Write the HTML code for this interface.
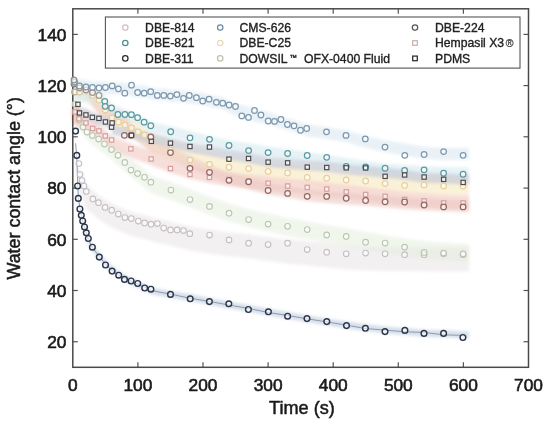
<!DOCTYPE html>
<html><head><meta charset="utf-8"><style>html,body{margin:0;padding:0;background:#fff;}svg{display:block;filter:blur(0.3px);}</style></head>
<body><svg width="550" height="425" viewBox="0 0 550 425">
<defs><filter id="bb" x="-5%" y="-20%" width="110%" height="140%"><feGaussianBlur stdDeviation="1.6"/></filter>
<filter id="mb" x="-5%" y="-5%" width="110%" height="110%"><feGaussianBlur stdDeviation="0.35"/></filter></defs>
<rect width="550" height="425" fill="#fff"/>
<g filter="url(#bb)"><path d="M78.9,165.8 L80.0,169.1 L82.0,172.2 L84.0,179.3 L86.3,184.9 L92.9,190.3 L98.5,195.1 L105.1,199.6 L111.7,203.4 L118.3,206.5 L124.9,209.2 L131.3,211.8 L138.3,213.8 L144.6,215.0 L151.0,216.9 L157.4,218.7 L163.7,220.1 L170.5,221.4 L177.1,223.4 L183.5,224.8 L189.8,226.8 L209.5,229.5 L229.0,232.3 L248.6,234.2 L268.1,237.1 L287.6,239.5 L307.2,241.6 L326.7,243.3 L346.2,245.5 L365.6,246.5 L385.1,247.0 L404.6,247.0 L424.1,247.3 L443.6,247.5 L463.1,247.4 L469.1,247.4 L469.1,271.4 L463.1,271.4 L443.6,271.5 L424.1,271.3 L404.6,271.0 L385.1,271.0 L365.6,270.5 L346.2,269.5 L326.7,267.3 L307.2,265.6 L287.6,263.5 L268.1,261.1 L248.6,258.2 L229.0,256.3 L209.5,253.5 L189.8,250.8 L183.5,248.8 L177.1,247.4 L170.5,245.4 L163.7,244.1 L157.4,242.7 L151.0,240.9 L144.6,239.0 L138.3,237.8 L131.3,235.8 L124.9,233.2 L118.3,230.5 L111.7,227.4 L105.1,223.6 L98.5,219.1 L92.9,214.3 L86.3,208.9 L84.0,203.3 L82.0,196.2 L80.0,193.1 L78.9,189.8Z" fill="#eae4e8" fill-opacity="0.55"/><path d="M75.0,103.0 L77.0,106.8 L79.5,110.0 L83.0,116.3 L87.0,121.7 L92.4,126.5 L98.6,131.0 L104.5,135.7 L111.5,141.0 L118.0,147.2 L124.8,153.2 L131.0,158.7 L137.6,164.1 L144.5,169.6 L150.9,175.5 L170.9,182.1 L190.0,189.3 L209.5,196.7 L229.0,203.5 L248.6,208.9 L268.1,213.5 L287.6,217.9 L307.2,221.2 L326.7,224.9 L346.2,228.2 L365.6,231.7 L385.1,235.2 L404.6,238.5 L424.1,240.9 L443.6,242.6 L463.1,244.1 L469.1,244.1 L469.1,262.1 L463.1,262.1 L443.6,260.6 L424.1,258.9 L404.6,256.5 L385.1,253.2 L365.6,249.7 L346.2,246.2 L326.7,242.9 L307.2,239.2 L287.6,235.9 L268.1,231.5 L248.6,226.9 L229.0,221.5 L209.5,214.7 L190.0,207.3 L170.9,200.1 L150.9,193.5 L144.5,187.6 L137.6,182.1 L131.0,176.7 L124.8,171.2 L118.0,165.2 L111.5,159.0 L104.5,153.7 L98.6,149.0 L92.4,144.5 L87.0,139.7 L83.0,134.3 L79.5,128.0 L77.0,124.8 L75.0,121.0Z" fill="#e4eedc" fill-opacity="0.5"/><path d="M74.5,81.7 L79.5,82.8 L86.0,84.5 L92.5,88.1 L99.0,93.3 L105.4,100.1 L112.0,106.0 L118.5,111.6 L125.0,116.0 L131.5,119.4 L138.0,122.6 L144.5,127.6 L151.0,134.0 L170.5,140.4 L190.0,146.9 L209.5,153.0 L229.0,157.3 L248.6,159.9 L268.1,162.5 L287.6,164.7 L307.2,167.0 L326.7,168.9 L346.2,171.0 L365.6,172.7 L385.1,174.0 L404.6,175.2 L424.1,176.2 L443.6,176.6 L463.1,176.7 L469.1,176.7 L469.1,194.7 L463.1,194.7 L443.6,194.6 L424.1,194.2 L404.6,193.2 L385.1,192.0 L365.6,190.7 L346.2,189.0 L326.7,186.9 L307.2,185.0 L287.6,182.7 L268.1,180.5 L248.6,177.9 L229.0,175.3 L209.5,171.0 L190.0,164.9 L170.5,158.4 L151.0,152.0 L144.5,145.6 L138.0,140.6 L131.5,137.4 L125.0,134.0 L118.5,129.6 L112.0,124.0 L105.4,118.1 L99.0,111.3 L92.5,106.1 L86.0,102.5 L79.5,100.8 L74.5,99.7Z" fill="#f8eac4" fill-opacity="0.65"/><path d="M75.0,110.9 L79.0,113.6 L86.0,115.7 L92.7,120.5 L99.0,124.7 L105.3,129.9 L111.6,136.0 L130.8,143.5 L151.2,151.2 L170.5,158.7 L190.0,164.8 L209.5,169.3 L229.0,172.3 L248.6,174.6 L268.1,176.6 L287.6,178.5 L307.2,180.5 L326.7,182.8 L346.2,184.9 L365.6,187.3 L385.1,189.6 L404.6,191.9 L424.1,193.6 L443.6,194.6 L463.1,195.3 L469.1,195.3 L469.1,209.3 L463.1,209.3 L443.6,208.6 L424.1,207.6 L404.6,205.9 L385.1,203.6 L365.6,201.3 L346.2,198.9 L326.7,196.8 L307.2,194.5 L287.6,192.5 L268.1,190.6 L248.6,188.6 L229.0,186.3 L209.5,183.3 L190.0,178.8 L170.5,172.7 L151.2,165.2 L130.8,157.5 L111.6,150.0 L105.3,143.9 L99.0,138.7 L92.7,134.5 L86.0,129.7 L79.0,127.6 L75.0,124.9Z" fill="#f4d0ca" fill-opacity="0.7"/><path d="M74.0,81.3 L79.5,82.6 L86.0,84.0 L92.5,94.3 L99.0,103.7 L124.4,113.1 L131.2,125.1 L150.8,139.7 L170.5,147.1 L190.0,156.1 L209.5,165.0 L229.0,172.6 L248.6,177.6 L268.1,182.4 L287.6,185.7 L307.2,189.0 L326.7,191.0 L346.2,192.6 L365.6,193.8 L385.1,195.5 L404.6,197.2 L424.1,198.5 L443.6,199.2 L463.1,200.3 L469.1,200.3 L469.1,212.3 L463.1,212.3 L443.6,211.2 L424.1,210.5 L404.6,209.2 L385.1,207.5 L365.6,205.8 L346.2,204.6 L326.7,203.0 L307.2,201.0 L287.6,197.7 L268.1,194.4 L248.6,189.6 L229.0,184.6 L209.5,177.0 L190.0,168.1 L170.5,159.1 L150.8,151.7 L131.2,137.1 L124.4,125.1 L99.0,115.7 L92.5,106.3 L86.0,96.0 L79.5,94.6 L74.0,93.3Z" fill="#ecc8c0" fill-opacity="0.6"/><path d="M74.5,79.0 L79.5,79.6 L86.0,80.1 L92.5,81.2 L99.0,81.2 L105.4,81.5 L112.2,82.7 L118.4,82.1 L124.8,83.1 L131.5,84.6 L137.6,85.2 L144.2,85.6 L150.7,87.6 L157.3,88.4 L163.8,88.6 L170.4,90.0 L176.9,90.0 L183.5,90.4 L189.3,91.4 L196.4,92.3 L202.7,93.1 L209.1,94.7 L216.4,96.1 L222.7,97.2 L229.1,100.6 L235.5,103.6 L241.8,105.1 L248.5,107.1 L254.5,110.0 L260.9,111.1 L268.2,111.5 L274.5,114.3 L280.9,116.4 L287.4,118.3 L294.0,119.7 L300.5,122.2 L306.7,124.3 L326.5,127.0 L346.0,130.3 L365.3,135.7 L385.0,140.2 L404.8,143.5 L424.1,146.8 L443.6,148.2 L463.1,147.8 L469.1,147.8 L469.1,159.8 L463.1,159.8 L443.6,160.2 L424.1,158.8 L404.8,155.5 L385.0,152.2 L365.3,147.7 L346.0,142.3 L326.5,139.0 L306.7,136.3 L300.5,134.2 L294.0,131.7 L287.4,130.3 L280.9,128.4 L274.5,126.3 L268.2,123.5 L260.9,123.1 L254.5,122.0 L248.5,119.1 L241.8,117.1 L235.5,115.6 L229.1,112.6 L222.7,109.2 L216.4,108.1 L209.1,106.7 L202.7,105.1 L196.4,104.3 L189.3,103.4 L183.5,102.4 L176.9,102.0 L170.4,102.0 L163.8,100.6 L157.3,100.4 L150.7,99.6 L144.2,97.6 L137.6,97.2 L131.5,96.6 L124.8,95.1 L118.4,94.1 L112.2,94.7 L105.4,93.5 L99.0,93.2 L92.5,93.2 L86.0,92.1 L79.5,91.6 L74.5,91.0Z" fill="#dbe8f2" fill-opacity="0.6"/><path d="M74.0,90.9 L104.8,93.9 L105.2,97.0 L111.5,103.9 L117.9,106.6 L124.9,108.9 L131.4,111.7 L137.6,114.0 L144.1,117.4 L150.8,122.0 L170.7,126.3 L190.0,131.0 L209.5,136.0 L229.0,140.2 L248.6,143.3 L268.1,146.5 L287.6,148.9 L307.2,152.1 L326.7,155.0 L346.2,157.9 L365.6,160.9 L385.1,163.4 L404.6,164.7 L424.1,166.2 L443.6,166.9 L463.1,167.4 L469.1,167.4 L469.1,177.4 L463.1,177.4 L443.6,176.9 L424.1,176.2 L404.6,174.7 L385.1,173.4 L365.6,170.9 L346.2,167.9 L326.7,165.0 L307.2,162.1 L287.6,158.9 L268.1,156.5 L248.6,153.3 L229.0,150.2 L209.5,146.0 L190.0,141.0 L170.7,136.3 L150.8,132.0 L144.1,127.4 L137.6,124.0 L131.4,121.7 L124.9,118.9 L117.9,116.6 L111.5,113.9 L105.2,107.0 L104.8,103.9 L74.0,100.9Z" fill="#d6eaee" fill-opacity="0.6"/><path d="M78.0,105.8 L79.5,107.4 L86.0,108.6 L92.4,112.1 L99.0,115.0 L105.5,116.6 L111.6,120.2 L112.2,124.8 L131.5,129.0 L151.3,132.9 L170.5,137.7 L190.0,142.5 L209.5,145.9 L229.0,149.7 L248.6,153.0 L268.1,157.0 L287.6,158.7 L307.2,160.5 L326.7,161.7 L346.2,164.4 L365.6,165.9 L385.1,167.8 L404.6,170.1 L424.1,173.0 L443.6,173.4 L463.1,174.6 L469.1,174.6 L469.1,184.6 L463.1,184.6 L443.6,183.4 L424.1,183.0 L404.6,180.1 L385.1,177.8 L365.6,175.9 L346.2,174.4 L326.7,171.7 L307.2,170.5 L287.6,168.7 L268.1,167.0 L248.6,163.0 L229.0,159.7 L209.5,155.9 L190.0,152.5 L170.5,147.7 L151.3,142.9 L131.5,139.0 L112.2,134.8 L111.6,130.2 L105.5,126.6 L99.0,125.0 L92.4,122.1 L86.0,118.6 L79.5,117.4 L78.0,115.8Z" fill="#c6cad6" fill-opacity="0.7"/><path d="M75.6,154.0 L76.8,164.2 L77.6,172.5 L78.3,189.3 L79.9,202.4 L81.3,210.6 L82.7,217.5 L84.5,223.4 L86.3,229.8 L88.3,237.0 L92.4,244.6 L99.3,252.3 L105.5,259.6 L112.1,266.1 L118.7,270.8 L124.5,274.5 L131.1,277.9 L137.7,280.7 L144.7,283.7 L150.9,287.3 L170.5,290.9 L190.2,294.1 L209.4,298.1 L228.8,301.6 L248.4,305.1 L268.4,308.5 L287.6,312.0 L307.0,315.3 L326.8,318.6 L346.5,321.6 L365.4,324.0 L385.0,326.4 L404.9,327.9 L424.0,329.8 L443.6,330.2 L462.9,331.3 L468.9,331.3 L468.9,338.3 L462.9,338.3 L443.6,337.2 L424.0,336.8 L404.9,334.9 L385.0,333.4 L365.4,331.0 L346.5,328.6 L326.8,325.6 L307.0,322.3 L287.6,319.0 L268.4,315.5 L248.4,312.1 L228.8,308.6 L209.4,305.1 L190.2,301.1 L170.5,297.9 L150.9,294.3 L144.7,290.7 L137.7,287.7 L131.1,284.9 L124.5,281.5 L118.7,277.8 L112.1,273.1 L105.5,266.6 L99.3,259.3 L92.4,251.6 L88.3,244.0 L86.3,236.8 L84.5,230.4 L82.7,224.5 L81.3,217.6 L79.9,209.4 L78.3,196.3 L77.6,179.5 L76.8,171.2 L75.6,161.0Z" fill="#b0c0d8" fill-opacity="0.5"/><ellipse cx="76" cy="114" rx="5" ry="11" fill="#f3b898" fill-opacity="0.55"/></g>
<g stroke="#555" stroke-width="1.2"><line x1="137.9" y1="367.3" x2="137.9" y2="362.3"/><line x1="137.9" y1="8.8" x2="137.9" y2="13.8"/><line x1="203.0" y1="367.3" x2="203.0" y2="362.3"/><line x1="203.0" y1="8.8" x2="203.0" y2="13.8"/><line x1="268.1" y1="367.3" x2="268.1" y2="362.3"/><line x1="268.1" y1="8.8" x2="268.1" y2="13.8"/><line x1="333.2" y1="367.3" x2="333.2" y2="362.3"/><line x1="333.2" y1="8.8" x2="333.2" y2="13.8"/><line x1="398.3" y1="367.3" x2="398.3" y2="362.3"/><line x1="398.3" y1="8.8" x2="398.3" y2="13.8"/><line x1="463.4" y1="367.3" x2="463.4" y2="362.3"/><line x1="463.4" y1="8.8" x2="463.4" y2="13.8"/><line x1="72.8" y1="341.7" x2="77.8" y2="341.7"/><line x1="528.5" y1="341.7" x2="523.5" y2="341.7"/><line x1="72.8" y1="290.5" x2="77.8" y2="290.5"/><line x1="528.5" y1="290.5" x2="523.5" y2="290.5"/><line x1="72.8" y1="239.3" x2="77.8" y2="239.3"/><line x1="528.5" y1="239.3" x2="523.5" y2="239.3"/><line x1="72.8" y1="188.1" x2="77.8" y2="188.1"/><line x1="528.5" y1="188.1" x2="523.5" y2="188.1"/><line x1="72.8" y1="136.8" x2="77.8" y2="136.8"/><line x1="528.5" y1="136.8" x2="523.5" y2="136.8"/><line x1="72.8" y1="85.6" x2="77.8" y2="85.6"/><line x1="528.5" y1="85.6" x2="523.5" y2="85.6"/><line x1="72.8" y1="34.4" x2="77.8" y2="34.4"/><line x1="528.5" y1="34.4" x2="523.5" y2="34.4"/></g>
<rect x="72.8" y="8.8" width="455.7" height="358.5" fill="none" stroke="#4a4a4a" stroke-width="1.5"/>
<g filter="url(#mb)"><polyline fill="none" stroke="#8e9aae" stroke-width="1" points="75.6,143.2 76.8,157.5 77.6,179.9 78.3,197.8 79.9,207.6 81.3,215.1 82.7,221.1 84.5,226.9 86.3,232.8 88.3,239.5 92.4,247.6 99.3,256.4 105.5,264.4 112.1,270.4 118.7,275.2 124.5,278.5 131.1,281.3 137.7,284.2 144.7,286.9 150.9,290.5 170.5,294.1 190.2,298.3 209.4,301.4 228.8,305.0 248.4,308.4 268.4,312.5 287.6,315.5 307.0,318.8 326.8,321.9 346.5,325.2 365.4,328.5 385.0,330.1 404.9,331.8 424.0,332.4 443.6,334.8 462.9,335.4"/><g fill="#fff" fill-opacity="0.6" stroke="#c6c0c2" stroke-width="1.15"><circle cx="78.9" cy="163.5" r="2.8"/><circle cx="80.0" cy="174.5" r="2.8"/><circle cx="82.0" cy="180.5" r="2.8"/><circle cx="84.0" cy="186.0" r="2.8"/><circle cx="86.3" cy="191.4" r="2.8"/><circle cx="92.9" cy="198.9" r="2.8"/><circle cx="98.5" cy="202.7" r="2.8"/><circle cx="105.1" cy="207.4" r="2.8"/><circle cx="111.7" cy="210.2" r="2.8"/><circle cx="118.3" cy="214.0" r="2.8"/><circle cx="124.9" cy="217.5" r="2.8"/><circle cx="131.3" cy="218.5" r="2.8"/><circle cx="138.3" cy="221.0" r="2.8"/><circle cx="144.6" cy="222.9" r="2.8"/><circle cx="151.0" cy="224.2" r="2.8"/><circle cx="157.4" cy="223.5" r="2.8"/><circle cx="163.7" cy="228.0" r="2.8"/><circle cx="170.5" cy="229.9" r="2.8"/><circle cx="177.1" cy="229.9" r="2.8"/><circle cx="183.5" cy="230.5" r="2.8"/><circle cx="189.8" cy="233.7" r="2.8"/><circle cx="209.5" cy="235.0" r="2.8"/><circle cx="229.0" cy="239.9" r="2.8"/><circle cx="248.6" cy="243.2" r="2.8"/><circle cx="268.1" cy="244.5" r="2.8"/><circle cx="287.6" cy="243.2" r="2.8"/><circle cx="307.2" cy="249.5" r="2.8"/><circle cx="326.7" cy="252.2" r="2.8"/><circle cx="346.2" cy="253.8" r="2.8"/><circle cx="365.6" cy="253.0" r="2.8"/><circle cx="385.1" cy="253.8" r="2.8"/><circle cx="404.6" cy="254.7" r="2.8"/><circle cx="424.1" cy="254.7" r="2.8"/><circle cx="443.6" cy="253.8" r="2.8"/><circle cx="463.1" cy="254.7" r="2.8"/></g><g fill="#fff" fill-opacity="0.6" stroke="#bac8b2" stroke-width="1.15"><circle cx="75.0" cy="104.0" r="2.8"/><circle cx="77.0" cy="112.0" r="2.8"/><circle cx="79.5" cy="120.0" r="2.8"/><circle cx="83.0" cy="127.0" r="2.8"/><circle cx="87.0" cy="132.0" r="2.8"/><circle cx="92.4" cy="135.5" r="2.8"/><circle cx="98.6" cy="139.0" r="2.8"/><circle cx="104.5" cy="144.0" r="2.8"/><circle cx="111.5" cy="149.5" r="2.8"/><circle cx="118.0" cy="155.3" r="2.8"/><circle cx="124.8" cy="162.4" r="2.8"/><circle cx="131.0" cy="170.0" r="2.8"/><circle cx="137.6" cy="173.6" r="2.8"/><circle cx="144.5" cy="177.3" r="2.8"/><circle cx="150.9" cy="182.2" r="2.8"/><circle cx="170.9" cy="190.0" r="2.8"/><circle cx="190.0" cy="199.5" r="2.8"/><circle cx="209.5" cy="206.4" r="2.8"/><circle cx="229.0" cy="213.2" r="2.8"/><circle cx="248.6" cy="219.5" r="2.8"/><circle cx="268.1" cy="224.1" r="2.8"/><circle cx="287.6" cy="226.3" r="2.8"/><circle cx="307.2" cy="229.5" r="2.8"/><circle cx="326.7" cy="234.9" r="2.8"/><circle cx="346.2" cy="236.4" r="2.8"/><circle cx="365.6" cy="242.2" r="2.8"/><circle cx="385.1" cy="243.0" r="2.8"/><circle cx="404.6" cy="247.1" r="2.8"/><circle cx="424.1" cy="252.4" r="2.8"/><circle cx="443.6" cy="253.0" r="2.8"/><circle cx="463.1" cy="253.8" r="2.8"/></g><g fill="#fff" fill-opacity="0.6" stroke="#e8d09e" stroke-width="1.25"><circle cx="74.5" cy="92.0" r="2.8" stroke="#b8b090"/><circle cx="79.5" cy="92.0" r="2.8" stroke="#d8c8a0"/><circle cx="86.0" cy="88.0" r="2.8"/><circle cx="92.5" cy="95.4" r="2.8"/><circle cx="99.0" cy="100.0" r="2.8"/><circle cx="105.4" cy="110.0" r="2.8"/><circle cx="112.0" cy="118.0" r="2.8"/><circle cx="118.5" cy="122.0" r="2.8"/><circle cx="125.0" cy="125.0" r="2.8"/><circle cx="131.5" cy="128.0" r="2.8"/><circle cx="138.0" cy="132.0" r="2.8"/><circle cx="144.5" cy="135.0" r="2.8"/><circle cx="151.0" cy="138.0" r="2.8"/><circle cx="170.5" cy="150.0" r="2.8"/><circle cx="190.0" cy="159.9" r="2.8"/><circle cx="209.5" cy="164.3" r="2.8"/><circle cx="229.0" cy="167.2" r="2.8"/><circle cx="248.6" cy="168.6" r="2.8"/><circle cx="268.1" cy="171.5" r="2.8"/><circle cx="287.6" cy="173.0" r="2.8"/><circle cx="307.2" cy="177.4" r="2.8"/><circle cx="326.7" cy="178.2" r="2.8"/><circle cx="346.2" cy="180.0" r="2.8"/><circle cx="365.6" cy="181.0" r="2.8"/><circle cx="385.1" cy="183.6" r="2.8"/><circle cx="404.6" cy="185.5" r="2.8"/><circle cx="424.1" cy="185.0" r="2.8"/><circle cx="443.6" cy="186.0" r="2.8"/><circle cx="463.1" cy="186.0" r="2.8"/></g><g fill="#fff" fill-opacity="0.6" stroke="#d6a2a0" stroke-width="1.25"><rect x="72.8" y="109.8" width="4.3" height="4.3"/><rect x="76.8" y="116.6" width="4.3" height="4.3"/><rect x="83.8" y="120.8" width="4.3" height="4.3"/><rect x="90.5" y="126.3" width="4.3" height="4.3"/><rect x="96.8" y="128.8" width="4.3" height="4.3"/><rect x="103.1" y="133.8" width="4.3" height="4.3"/><rect x="109.4" y="137.8" width="4.3" height="4.3"/><rect x="128.7" y="146.7" width="4.3" height="4.3"/><rect x="149.0" y="156.8" width="4.3" height="4.3"/><rect x="168.3" y="166.4" width="4.3" height="4.3"/><rect x="187.8" y="172.3" width="4.3" height="4.3"/><rect x="207.3" y="175.2" width="4.3" height="4.3"/><rect x="226.8" y="177.3" width="4.3" height="4.3"/><rect x="246.4" y="179.5" width="4.3" height="4.3"/><rect x="266.0" y="181.0" width="4.3" height="4.3"/><rect x="285.5" y="183.9" width="4.3" height="4.3"/><rect x="305.1" y="185.3" width="4.3" height="4.3"/><rect x="324.6" y="186.9" width="4.3" height="4.3"/><rect x="344.1" y="189.7" width="4.3" height="4.3"/><rect x="363.5" y="192.3" width="4.3" height="4.3"/><rect x="383.0" y="194.2" width="4.3" height="4.3"/><rect x="402.5" y="197.3" width="4.3" height="4.3"/><rect x="422.0" y="198.8" width="4.3" height="4.3"/><rect x="441.5" y="200.8" width="4.3" height="4.3"/><rect x="461.0" y="200.8" width="4.3" height="4.3"/></g><g fill="#fff" fill-opacity="0.6" stroke="#946866" stroke-width="1.25"><circle cx="74.0" cy="84.0" r="2.8" stroke="#8a8078"/><circle cx="79.5" cy="88.0" r="2.8" stroke="#a09088"/><circle cx="86.0" cy="90.0" r="2.8" stroke="#a09088"/><circle cx="92.5" cy="92.5" r="2.8" stroke="#a09088"/><circle cx="99.0" cy="95.5" r="2.8" stroke="#a09890"/><circle cx="124.4" cy="135.3" r="2.8"/><circle cx="131.2" cy="135.3" r="2.8"/><circle cx="150.8" cy="137.0" r="2.8"/><circle cx="170.5" cy="152.6" r="2.8"/><circle cx="190.0" cy="168.3" r="2.8"/><circle cx="209.5" cy="172.3" r="2.8"/><circle cx="229.0" cy="180.3" r="2.8"/><circle cx="248.6" cy="181.7" r="2.8"/><circle cx="268.1" cy="190.5" r="2.8"/><circle cx="287.6" cy="193.4" r="2.8"/><circle cx="307.2" cy="196.3" r="2.8"/><circle cx="326.7" cy="196.4" r="2.8"/><circle cx="346.2" cy="198.2" r="2.8"/><circle cx="365.6" cy="200.5" r="2.8"/><circle cx="385.1" cy="201.8" r="2.8"/><circle cx="404.6" cy="202.0" r="2.8"/><circle cx="424.1" cy="205.0" r="2.8"/><circle cx="443.6" cy="206.9" r="2.8"/><circle cx="463.1" cy="206.9" r="2.8"/></g><g fill="#fff" fill-opacity="0.6" stroke="#7d98ae" stroke-width="1.25"><circle cx="74.5" cy="82.0" r="2.8"/><circle cx="79.5" cy="86.0" r="2.8"/><circle cx="86.0" cy="87.0" r="2.8"/><circle cx="92.5" cy="87.5" r="2.8"/><circle cx="99.0" cy="88.0" r="2.8"/><circle cx="105.4" cy="87.5" r="2.8"/><circle cx="112.2" cy="85.9" r="2.8"/><circle cx="118.4" cy="88.8" r="2.8"/><circle cx="124.8" cy="93.2" r="2.8"/><circle cx="131.5" cy="85.2" r="2.8"/><circle cx="137.6" cy="92.5" r="2.8"/><circle cx="144.2" cy="93.2" r="2.8"/><circle cx="150.7" cy="91.7" r="2.8"/><circle cx="157.3" cy="95.4" r="2.8"/><circle cx="163.8" cy="95.4" r="2.8"/><circle cx="170.4" cy="96.1" r="2.8"/><circle cx="176.9" cy="94.6" r="2.8"/><circle cx="183.5" cy="98.3" r="2.8"/><circle cx="189.3" cy="95.4" r="2.8"/><circle cx="196.4" cy="97.7" r="2.8"/><circle cx="202.7" cy="101.0" r="2.8"/><circle cx="209.1" cy="99.2" r="2.8"/><circle cx="216.4" cy="102.3" r="2.8"/><circle cx="222.7" cy="103.2" r="2.8"/><circle cx="229.1" cy="105.0" r="2.8"/><circle cx="235.5" cy="106.5" r="2.8"/><circle cx="241.8" cy="115.9" r="2.8"/><circle cx="248.5" cy="117.4" r="2.8"/><circle cx="254.5" cy="110.5" r="2.8"/><circle cx="260.9" cy="115.0" r="2.8"/><circle cx="268.2" cy="121.0" r="2.8"/><circle cx="274.5" cy="121.4" r="2.8"/><circle cx="280.9" cy="119.5" r="2.8"/><circle cx="287.4" cy="124.5" r="2.8"/><circle cx="294.0" cy="125.8" r="2.8"/><circle cx="300.5" cy="130.2" r="2.8"/><circle cx="306.7" cy="128.5" r="2.8"/><circle cx="326.5" cy="131.8" r="2.8"/><circle cx="346.0" cy="135.4" r="2.8"/><circle cx="365.3" cy="138.9" r="2.8"/><circle cx="385.0" cy="147.1" r="2.8"/><circle cx="404.8" cy="155.3" r="2.8"/><circle cx="424.1" cy="154.5" r="2.8"/><circle cx="443.6" cy="151.6" r="2.8"/><circle cx="463.1" cy="155.3" r="2.8"/></g><g fill="#fff" fill-opacity="0.6" stroke="#5a9aa2" stroke-width="1.25"><circle cx="74.0" cy="80.0" r="2.8" stroke="#8a9488"/><circle cx="104.8" cy="101.3" r="2.8"/><circle cx="105.2" cy="106.3" r="2.8"/><circle cx="111.5" cy="108.0" r="2.8"/><circle cx="117.9" cy="114.5" r="2.8"/><circle cx="124.9" cy="114.5" r="2.8"/><circle cx="131.4" cy="114.7" r="2.8"/><circle cx="137.6" cy="117.7" r="2.8"/><circle cx="144.1" cy="122.2" r="2.8"/><circle cx="150.8" cy="125.7" r="2.8"/><circle cx="170.7" cy="131.7" r="2.8"/><circle cx="190.0" cy="137.8" r="2.8"/><circle cx="209.5" cy="139.3" r="2.8"/><circle cx="229.0" cy="145.5" r="2.8"/><circle cx="248.6" cy="150.6" r="2.8"/><circle cx="268.1" cy="152.6" r="2.8"/><circle cx="287.6" cy="153.5" r="2.8"/><circle cx="307.2" cy="155.5" r="2.8"/><circle cx="326.7" cy="157.3" r="2.8"/><circle cx="346.2" cy="166.5" r="2.8"/><circle cx="365.6" cy="167.0" r="2.8"/><circle cx="385.1" cy="168.2" r="2.8"/><circle cx="404.6" cy="170.5" r="2.8"/><circle cx="424.1" cy="169.8" r="2.8"/><circle cx="443.6" cy="173.2" r="2.8"/><circle cx="463.1" cy="174.2" r="2.8"/></g><g fill="#fff" fill-opacity="0.6" stroke="#4a4a4a" stroke-width="1.15"><rect x="75.8" y="102.2" width="4.3" height="4.3"/><rect x="77.3" y="110.8" width="4.3" height="4.3"/><rect x="83.8" y="112.8" width="4.3" height="4.3"/><rect x="90.2" y="115.2" width="4.3" height="4.3"/><rect x="96.8" y="116.2" width="4.3" height="4.3"/><rect x="103.3" y="119.8" width="4.3" height="4.3"/><rect x="109.4" y="125.0" width="4.3" height="4.3"/><rect x="110.0" y="120.8" width="4.3" height="4.3"/><rect x="129.3" y="133.2" width="4.3" height="4.3"/><rect x="149.2" y="139.2" width="4.3" height="4.3"/><rect x="168.3" y="141.0" width="4.3" height="4.3"/><rect x="187.8" y="144.3" width="4.3" height="4.3"/><rect x="207.3" y="144.9" width="4.3" height="4.3"/><rect x="226.8" y="157.0" width="4.3" height="4.3"/><rect x="246.4" y="156.3" width="4.3" height="4.3"/><rect x="266.0" y="160.0" width="4.3" height="4.3"/><rect x="285.5" y="160.7" width="4.3" height="4.3"/><rect x="305.1" y="165.0" width="4.3" height="4.3"/><rect x="324.6" y="165.4" width="4.3" height="4.3"/><rect x="344.1" y="165.7" width="4.3" height="4.3"/><rect x="363.5" y="165.8" width="4.3" height="4.3"/><rect x="383.0" y="174.2" width="4.3" height="4.3"/><rect x="402.5" y="172.8" width="4.3" height="4.3"/><rect x="422.0" y="174.9" width="4.3" height="4.3"/><rect x="441.5" y="177.2" width="4.3" height="4.3"/><rect x="461.0" y="180.3" width="4.3" height="4.3"/></g><g fill="#fff" fill-opacity="0.6" stroke="#2c364c" stroke-width="1.4"><circle cx="75.6" cy="131.1" r="2.85"/><circle cx="76.8" cy="155.4" r="2.85"/><circle cx="77.6" cy="186.0" r="2.85"/><circle cx="78.3" cy="198.4" r="2.85"/><circle cx="79.9" cy="209.0" r="2.85"/><circle cx="81.3" cy="215.3" r="2.85"/><circle cx="82.7" cy="221.0" r="2.85"/><circle cx="84.5" cy="227.0" r="2.85"/><circle cx="86.3" cy="232.8" r="2.85"/><circle cx="88.3" cy="238.5" r="2.85"/><circle cx="92.4" cy="247.2" r="2.85"/><circle cx="99.3" cy="257.1" r="2.85"/><circle cx="105.5" cy="265.0" r="2.85"/><circle cx="112.1" cy="271.1" r="2.85"/><circle cx="118.7" cy="275.2" r="2.85"/><circle cx="124.5" cy="279.4" r="2.85"/><circle cx="131.1" cy="281.0" r="2.85"/><circle cx="137.7" cy="283.5" r="2.85"/><circle cx="144.7" cy="288.0" r="2.85"/><circle cx="150.9" cy="289.2" r="2.85"/><circle cx="170.5" cy="294.4" r="2.85"/><circle cx="190.2" cy="298.8" r="2.85"/><circle cx="209.4" cy="301.6" r="2.85"/><circle cx="228.8" cy="303.8" r="2.85"/><circle cx="248.4" cy="309.5" r="2.85"/><circle cx="268.4" cy="311.8" r="2.85"/><circle cx="287.6" cy="316.2" r="2.85"/><circle cx="307.0" cy="318.6" r="2.85"/><circle cx="326.8" cy="321.6" r="2.85"/><circle cx="346.5" cy="325.6" r="2.85"/><circle cx="365.4" cy="328.3" r="2.85"/><circle cx="385.0" cy="331.6" r="2.85"/><circle cx="404.9" cy="330.4" r="2.85"/><circle cx="424.0" cy="333.4" r="2.85"/><circle cx="443.6" cy="333.4" r="2.85"/><circle cx="462.9" cy="337.5" r="2.85"/></g></g>
<rect x="105.4" y="17.0" width="414.6" height="51.1" fill="#fff" stroke="#555" stroke-width="1.1"/>
<g font-family="'Liberation Sans', Arial, sans-serif" font-size="12.2" fill="#222" stroke="#222" stroke-width="0.35"><circle cx="125.3" cy="27.6" r="2.7" fill="none" stroke="#d7bcc6" stroke-width="1.25"/><text x="145.1" y="31.9">DBE-814</text><circle cx="220.2" cy="27.6" r="2.7" fill="none" stroke="#6f8aa3" stroke-width="1.25"/><text x="239.5" y="31.9">CMS-626</text><circle cx="415" cy="27.6" r="2.7" fill="none" stroke="#5e534f" stroke-width="1.25"/><text x="435" y="31.9">DBE-224</text><circle cx="125.3" cy="43.0" r="2.7" fill="none" stroke="#4f8f8f" stroke-width="1.25"/><text x="145.1" y="47.3">DBE-821</text><circle cx="220.2" cy="43.0" r="2.7" fill="none" stroke="#efd9b8" stroke-width="1.25"/><text x="239.5" y="47.3">DBE-C25</text><rect x="412.7" y="40.7" width="4.6" height="4.6" fill="none" stroke="#cfb4ae" stroke-width="1.3"/><text x="435" y="47.3">Hempasil X3<tspan font-size="10.5" dx="1.6" fill="#555" stroke="#555">®</tspan></text><circle cx="125.3" cy="58.4" r="2.7" fill="none" stroke="#2a2a2a" stroke-width="1.25"/><text x="145.1" y="62.7">DBE-311</text><circle cx="220.2" cy="58.4" r="2.7" fill="none" stroke="#bcc2b0" stroke-width="1.25"/><text x="239.5" y="62.7">DOWSIL<tspan font-size="7.5" dx="2" dy="-3.2">™</tspan><tspan dy="3.2" dx="3.5"> OFX-0400 Fluid</tspan></text><rect x="412.7" y="56.1" width="4.6" height="4.6" fill="none" stroke="#333333" stroke-width="1.3"/><text x="435" y="62.7">PDMS</text></g>
<g font-family="'Liberation Sans', Arial, sans-serif" font-size="17.5" fill="#1a1a1a" stroke="#1a1a1a" stroke-width="0.5"><g font-size="17.3" stroke-width="0.6"><text x="66.4" y="348.0" text-anchor="end">20</text><text x="66.4" y="296.8" text-anchor="end">40</text><text x="66.4" y="245.6" text-anchor="end">60</text><text x="66.4" y="194.4" text-anchor="end">80</text><text x="66.4" y="143.1" text-anchor="end">100</text><text x="66.4" y="91.9" text-anchor="end">120</text><text x="66.4" y="40.7" text-anchor="end">140</text><text x="72.8" y="391.3" text-anchor="middle">0</text><text x="137.9" y="391.3" text-anchor="middle">100</text><text x="203.0" y="391.3" text-anchor="middle">200</text><text x="268.1" y="391.3" text-anchor="middle">300</text><text x="333.2" y="391.3" text-anchor="middle">400</text><text x="398.3" y="391.3" text-anchor="middle">500</text><text x="463.4" y="391.3" text-anchor="middle">600</text><text x="528.5" y="391.3" text-anchor="middle">700</text></g>
<text x="301.9" y="413.6" text-anchor="middle" font-size="18.1">Time (s)</text>
<text transform="translate(19.8,188.3) rotate(-90)" text-anchor="middle" font-size="17.9">Water contact angle (°)</text>
</g>
</svg></body></html>
